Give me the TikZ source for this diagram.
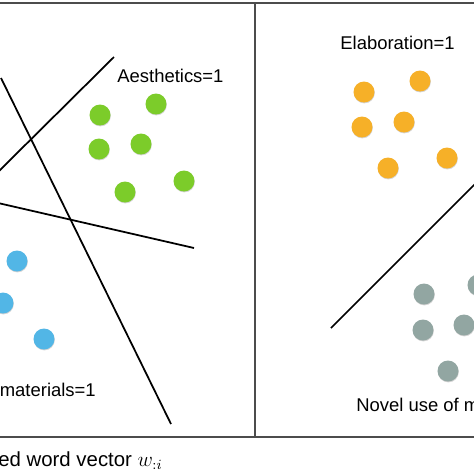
\documentclass[tikz,border=0pt]{standalone}
\usepackage{fontspec}
\setmainfont{Liberation Sans}
\usetikzlibrary{shadows}

\definecolor{aesgreen}{RGB}{124,204,42}
\definecolor{elaborange}{RGB}{246,176,40}
\definecolor{matblue}{RGB}{82,182,230}
\definecolor{novelgray}{RGB}{146,166,162}

\begin{document}
\begin{tikzpicture}[
  x=0.02cm, y=-0.02cm,
  font=\fontsize{10.5}{12}\selectfont,
  frame/.style={draw=black!70, line width=0.6pt},
  cut/.style={draw=black, line width=1.0pt},
  dot/.style={circle, inner sep=0pt, minimum size=0.42cm,
              drop shadow={shadow xshift=0.2pt, shadow yshift=-0.5pt, opacity=0.35}},
  lbl/.style={inner sep=0pt, anchor=base west}
]
\useasboundingbox (0,0) rectangle (474,474);
\clip (0,0) rectangle (474,474);

% Frame
\draw[frame] (0,3) -- (474,3);
\draw[frame] (0,437) -- (474,437);
\draw[frame] (255,3) -- (255,437);

% Separating lines
\draw[cut] (114,57) -- (-2,172);
\draw[cut] (1,78) -- (171,424);
\draw[cut] (-2,203) -- (194,248);
\draw[cut] (331,328) -- (482,177);

% Aesthetics cluster
\node[dot, fill=aesgreen] (g1) at (100,115) {};
\node[dot, fill=aesgreen] (g2) at (156,104) {};
\node[dot, fill=aesgreen] (g3) at (99,149) {};
\node[dot, fill=aesgreen] (g4) at (141,144) {};
\node[dot, fill=aesgreen] (g5) at (125,192) {};
\node[dot, fill=aesgreen] (g6) at (184,181) {};
\node[lbl] (aes) at (117,82.5) {Aesthetics=1};

% Elaboration cluster
\node[dot, fill=elaborange] (o1) at (364,92) {};
\node[dot, fill=elaborange] (o2) at (420,81) {};
\node[dot, fill=elaborange] (o3) at (362,127) {};
\node[dot, fill=elaborange] (o4) at (404,122) {};
\node[dot, fill=elaborange] (o5) at (388,168) {};
\node[dot, fill=elaborange] (o6) at (447,158) {};
\node[lbl] (elab) at (340,49) {Elaboration=1};

% Materials cluster
\node[dot, fill=matblue] (b1) at (17,261) {};
\node[dot, fill=matblue] (b2) at (3,303) {};
\node[dot, fill=matblue] (b3) at (44,339) {};
\node[lbl] (mat) at (-0.5,396) {materials=1};

% Novel use cluster
\node[dot, fill=novelgray] (n1) at (424,294) {};
\node[dot, fill=novelgray] (n2) at (478,285) {};
\node[dot, fill=novelgray] (n3) at (423,330) {};
\node[dot, fill=novelgray] (n4) at (464,325) {};
\node[dot, fill=novelgray] (n5) at (448,371) {};
\node[lbl] (novel) at (356,411) {Novel use of m};

% Caption
\node[lbl, font=\fontsize{11.6}{13}\selectfont] (cap) at (-2,466.5)
  {ed word vector $w_{:i}$};

\end{tikzpicture}
\end{document}
